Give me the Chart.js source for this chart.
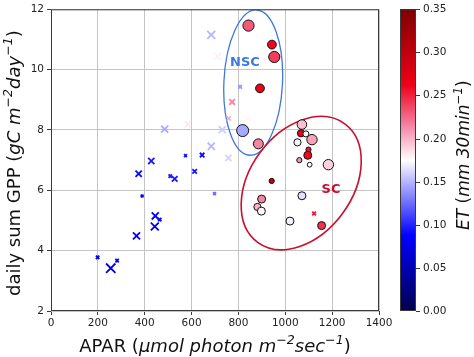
<!DOCTYPE html>
<html><head><meta charset="utf-8">
<script src="https://cdn.jsdelivr.net/npm/chart.js@4"></script>
<style>html,body{margin:0;padding:0;background:#fff;}#wrap{width:474px;height:357px;}</style>
</head><body><div id="wrap"><canvas id="c" width="474" height="357"></canvas></div>
<script>
// ---------------- data ----------------
const xTicks = [0, 200, 400, 600, 800, 1000, 1200, 1400];
const yTicks = [2, 4, 6, 8, 10, 12];
const etTicks = [0.00, 0.05, 0.10, 0.15, 0.20, 0.25, 0.30, 0.35];

// crosses (x markers)
const crossAPAR = [255, 199, 282, 365, 443, 445, 464, 389, 374, 428, 509, 528, 574, 645, 613, 698, 757, 684, 712, 807, 773, 759, 840, 485, 584, 731, 684, 1123];
const crossGPP  = [3.42, 3.78, 3.67, 4.49, 4.80, 5.15, 5.03, 5.81, 6.55, 6.97, 6.47, 6.38, 7.15, 7.17, 6.63, 5.89, 7.07, 11.15, 10.44, 9.43, 8.93, 8.38, 8.38, 8.03, 8.19, 8.01, 7.46, 5.23];
const crossET   = [0.080, 0.085, 0.085, 0.085, 0.085, 0.088, 0.090, 0.090, 0.090, 0.095, 0.095, 0.095, 0.095, 0.090, 0.095, 0.125, 0.160, 0.150, 0.180, 0.140, 0.215, 0.200, 0.178, 0.145, 0.182, 0.158, 0.150, 0.255];
const crossMag  = [3.3, 1.2, 1.2, 2.5, 2.8, 2.5, 1.2, 1.0, 2.2, 2.2, 1.2, 2.0, 1.0, 1.6, 1.6, 1.0, 2.2, 2.8, 2.2, 1.3, 2.0, 1.5, 2.2, 2.5, 2.2, 2.5, 2.5, 1.3];

// circles
const circAPAR = [843, 943, 953, 892, 818, 885, 1071, 1067, 1088, 1114, 1052, 1099, 1096, 1060, 1104, 1184, 942, 1071, 899, 881, 898, 1020, 1155];
const circGPP  = [11.46, 10.83, 10.42, 9.38, 7.98, 7.54, 8.18, 7.89, 7.87, 7.68, 7.59, 7.35, 7.16, 7.00, 6.85, 6.85, 6.31, 5.82, 5.71, 5.45, 5.31, 4.98, 4.83];
const circET   = [0.230, 0.260, 0.240, 0.265, 0.145, 0.215, 0.195, 0.265, 0.175, 0.205, 0.172, 0.255, 0.260, 0.210, 0.177, 0.190, 0.300, 0.165, 0.215, 0.200, 0.177, 0.170, 0.245];
const circMag  = [2.8, 2.2, 2.8, 2.2, 3.0, 2.5, 2.4, 1.8, 1.5, 2.6, 1.8, 1.3, 2.0, 1.3, 1.2, 2.6, 1.3, 2.0, 2.0, 1.8, 2.0, 2.0, 2.0];

// cluster annotations (data units)
const groupNames = ['NSC', 'SC'];
const groupCenterAPAR = [863, 1068];
const groupCenterGPP  = [9.57, 6.24];
const groupHalfAPAR   = [125, 314];
const groupHalfGPP    = [2.41, 1.70];
const groupAngleDeg   = [2.7, -53.7];
const groupLabelAPAR  = [828, 1195];
const groupLabelGPP   = [10.23, 6.02];

const ET_MIN = 0, ET_MAX = 0.35;

// ---------------- helpers ----------------
const FONT = '"DejaVu Sans", "Liberation Sans", sans-serif';
// seismic-like map (dark blue - blue - white - pinkish red - dark red)
const CMAP = [[0,[0,0,76]],[0.25,[0,0,255]],[0.5,[255,255,255]],[0.62,[245,125,160]],[0.75,[238,0,24]],[1,[128,0,0]]];
function cmap(t) {
  t = Math.max(0, Math.min(1, t));
  let i = 0;
  while (i < CMAP.length - 2 && t > CMAP[i+1][0]) i++;
  const [t0, a] = CMAP[i], [t1, b] = CMAP[i+1];
  const f = (t - t0) / (t1 - t0);
  const c = a.map((v, k) => Math.round(v + (b[k]-v)*f));
  return `rgb(${c[0]},${c[1]},${c[2]})`;
}
const etColor = v => cmap((v - ET_MIN) / (ET_MAX - ET_MIN));

function runsWidth(ctx, runs, size) {
  let w = 0;
  for (const r of runs) {
    const s = r.sup ? size * 0.7 : size;
    ctx.font = `${r.i ? 'italic ' : ''}${s}px ${FONT}`;
    w += ctx.measureText(r.t).width;
  }
  return w;
}
function drawRuns(ctx, runs, x, y, size) {
  let cx = x;
  for (const r of runs) {
    const s = r.sup ? size * 0.7 : size;
    ctx.font = `${r.i ? 'italic ' : ''}${s}px ${FONT}`;
    ctx.fillText(r.t, cx, r.sup ? y - size * 0.42 : y);
    cx += ctx.measureText(r.t).width;
  }
}

const xTitle = [{t:'APAR (', i:false}, {t:'\u03bcmol photon m', i:true}, {t:'\u22122', i:true, sup:true}, {t:'sec', i:true}, {t:'\u22121', i:true, sup:true}, {t:')', i:false}];
const yTitle = [{t:'daily sum GPP (', i:false}, {t:'gC m', i:true}, {t:'\u22122', i:true, sup:true}, {t:'day', i:true}, {t:'\u22121', i:true, sup:true}, {t:')', i:false}];
const cbTitle = [{t:'ET', i:true}, {t:' (', i:false}, {t:'mm 30min', i:true}, {t:'\u22121', i:true, sup:true}, {t:')', i:false}];

// ---------------- plugins ----------------
const decor = {
  id: 'decor',
  beforeDatasetsDraw(chart) {
    const ctx = chart.ctx, xs = chart.scales.x, ys = chart.scales.y;
    const colors = ['#3d78dc', '#c8102e'];
    ctx.save();
    const a = chart.chartArea;
    ctx.beginPath(); ctx.rect(a.left, a.top, a.right - a.left, a.bottom - a.top); ctx.clip();
    for (let k = 0; k < groupNames.length; k++) {
      const cx = xs.getPixelForValue(groupCenterAPAR[k]);
      const cy = ys.getPixelForValue(groupCenterGPP[k]);
      const rx = Math.abs(xs.getPixelForValue(groupCenterAPAR[k] + groupHalfAPAR[k]) - cx);
      const ry = Math.abs(ys.getPixelForValue(groupCenterGPP[k] + groupHalfGPP[k]) - cy);
      ctx.beginPath();
      ctx.ellipse(cx, cy, rx, ry, groupAngleDeg[k] * Math.PI / 180, 0, Math.PI * 2);
      ctx.strokeStyle = colors[k];
      ctx.lineWidth = k === 0 ? 1.3 : 1.6;
      ctx.stroke();
      ctx.fillStyle = colors[k];
      ctx.font = `bold 13px ${FONT}`;
      ctx.textAlign = 'center'; ctx.textBaseline = 'middle';
      ctx.fillText(groupNames[k], xs.getPixelForValue(groupLabelAPAR[k]), ys.getPixelForValue(groupLabelGPP[k]));
    }
    ctx.restore();
  },
  afterDraw(chart) {
    const ctx = chart.ctx, a = chart.chartArea;
    ctx.save();
    // frame
    ctx.strokeStyle = '#3a3a3a'; ctx.lineWidth = 1;
    ctx.strokeRect(a.left + 0.5, a.top + 0.5, a.right - a.left - 1, a.bottom - a.top - 1);
    // axis titles
    ctx.fillStyle = '#111'; ctx.textBaseline = 'alphabetic'; ctx.textAlign = 'left';
    const sz = 18;
    const wx = runsWidth(ctx, xTitle, sz);
    drawRuns(ctx, xTitle, (a.left + a.right) / 2 - wx / 2, 352, sz);
    const wy = runsWidth(ctx, yTitle, sz);
    ctx.save();
    ctx.translate(20, (a.top + a.bottom) / 2 + 3);
    ctx.rotate(-Math.PI / 2);
    drawRuns(ctx, yTitle, -wy / 2, 0, sz);
    ctx.restore();
    // colorbar
    const cb = chart.scales.cb;
    const L = a.right + 21, R = a.right + 37;
    const top = cb.getPixelForValue(ET_MAX), bot = cb.getPixelForValue(ET_MIN);
    for (let py = Math.floor(top); py < Math.ceil(bot); py++) {
      const v = cb.getValueForPixel(py + 0.5);
      ctx.fillStyle = etColor(v);
      ctx.fillRect(L, py, R - L, 1);
    }
    ctx.strokeStyle = '#3a3a3a'; ctx.lineWidth = 1;
    ctx.strokeRect(L + 0.5, top + 0.5, R - L - 1, bot - top - 1);
    ctx.fillStyle = '#222'; ctx.font = `10.5px ${FONT}`;
    ctx.textAlign = 'left'; ctx.textBaseline = 'middle';
    for (const v of etTicks) {
      const py = Math.round(cb.getPixelForValue(v)) + 0.5;
      ctx.beginPath(); ctx.moveTo(R, py); ctx.lineTo(R + 4, py); ctx.stroke();
      ctx.fillText(v.toFixed(2), R + 7, py);
    }
    const wc = runsWidth(ctx, cbTitle, 17);
    ctx.save();
    ctx.fillStyle = '#111'; ctx.textBaseline = 'alphabetic';
    ctx.translate(469, (top + bot) / 2 - 5);
    ctx.rotate(-Math.PI / 2);
    drawRuns(ctx, cbTitle, -wc / 2, 0, 17);
    ctx.restore();
    ctx.restore();
  }
};

// ---------------- chart ----------------
const crossPts = crossAPAR.map((x, i) => ({x, y: crossGPP[i]}));
const circPts = circAPAR.map((x, i) => ({x, y: circGPP[i]}));

new Chart(document.getElementById('c'), {
  type: 'scatter',
  data: {
    datasets: [
      {
        label: 'crosses',
        data: crossPts,
        pointStyle: 'crossRot',
        pointRadius: c => 2 * crossMag[c.dataIndex],
        borderWidth: 1.8,
        borderColor: c => etColor(crossET[c.dataIndex]),
        backgroundColor: c => etColor(crossET[c.dataIndex])
      },
      {
        label: 'circles',
        data: circPts,
        pointStyle: 'circle',
        pointRadius: c => 2 * circMag[c.dataIndex],
        borderWidth: 1,
        borderColor: '#111',
        backgroundColor: c => etColor(circET[c.dataIndex])
      }
    ]
  },
  options: {
    responsive: false,
    animation: false,
    devicePixelRatio: 1,
    layout: { padding: { top: 6, right: 95, left: 0, bottom: 0 } },
    plugins: { legend: { display: false }, tooltip: { enabled: false } },
    scales: {
      x: {
        type: 'linear', min: xTicks[0], max: xTicks[xTicks.length - 1],
        afterBuildTicks: s => { s.ticks = xTicks.map(v => ({value: v})); },
        ticks: { color: '#222', font: { size: 10.5, family: FONT }, padding: 2, maxRotation: 0, callback: v => String(v) },
        grid: { color: '#c4c4c4', tickColor: '#3a3a3a', tickLength: 4, lineWidth: 1 },
        border: { display: false },
        afterFit: s => { s.height = 46; }
      },
      y: {
        type: 'linear', min: yTicks[0], max: yTicks[yTicks.length - 1],
        afterBuildTicks: s => { s.ticks = yTicks.map(v => ({value: v})); },
        ticks: { color: '#222', font: { size: 10.5, family: FONT }, padding: 3, callback: v => String(v) },
        grid: { color: '#c4c4c4', tickColor: '#3a3a3a', tickLength: 4, lineWidth: 1 },
        border: { display: false },
        afterFit: s => { s.width = 51; }
      },
      cb: {
        type: 'linear', axis: 'y', display: false, min: ET_MIN, max: ET_MAX,
        afterBuildTicks: s => { s.ticks = etTicks.map(v => ({value: v})); }
      }
    }
  },
  plugins: [decor]
});
</script>
</body></html>
